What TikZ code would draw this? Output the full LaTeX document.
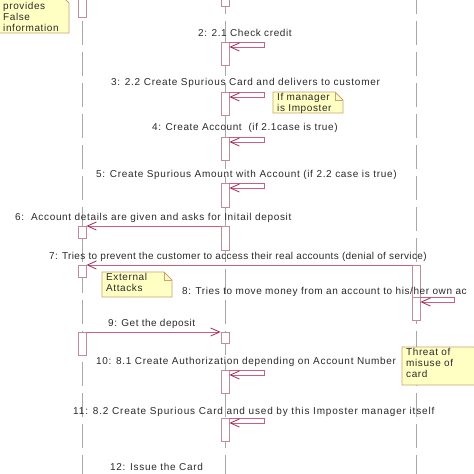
\documentclass[tikz,border=0pt]{standalone}
\usepackage{fontspec}
\setmainfont{Liberation Sans}[LetterSpace=6]
\usetikzlibrary{arrows.meta,calc}
\definecolor{lifec}{HTML}{A8A8A8}
\definecolor{actc}{HTML}{C08C98}
\definecolor{msgc}{HTML}{C86080}
\definecolor{tipc}{HTML}{A02858}
\definecolor{notefill}{HTML}{FFFFC4}
\definecolor{notedraw}{HTML}{C8A470}
\definecolor{txtc}{HTML}{2A2A2A}
\tikzset{
  lifeline/.style={draw=lifec, line width=0.9pt, dash pattern=on 24pt off 7pt},
  act/.style={draw=actc, fill=white, line width=0.8pt, rectangle, minimum width=8pt, inner sep=0pt, anchor=north},
  msg/.style={draw=msgc, line width=0.8pt, -{Straight Barb[length=9pt,width=8pt,color=tipc,line width=0.8pt]}},
  lbl/.style={text=txtc, inner sep=0pt, anchor=west},
  notebody/.style={fill=notefill, draw=notedraw, line width=0.8pt},
  notetext/.style={text=txtc, inner sep=0pt, align=left, font=\fontsize{10}{11}\selectfont}
}
\newcommand{\umlnote}[6]{%
  \filldraw[notebody] (#2,#3) -- (#4-8,#3) -- (#4,#3+8) -- (#4,#5) -- (#2,#5) -- cycle;
  \draw[notebody, fill=none] (#4-8,#3) -- (#4-8,#3+8) -- (#4,#3+8);
  \node[notetext, anchor=north west] (#1) at (#2+4,#3+1) {#6};
}
\begin{document}
\begin{tikzpicture}[x=1pt, y=-1pt, font=\fontsize{10}{11}\selectfont]
\useasboundingbox (0,0) rectangle (474,474);
\clip (0,0) rectangle (474,474);
\fill[white] (0,0) rectangle (474,474);
% lifelines
\coordinate (lt) at (82,-10); \coordinate (lb) at (82,480);
\coordinate (mt) at (225,-10); \coordinate (mb) at (225,480);
\coordinate (rt) at (416,-10); \coordinate (rb) at (416,480);
\draw[lifeline] (lt) -- (lb);
\draw[lifeline] (mt) -- (mb);
\draw[lifeline] (rt) -- (rb);
% activation boxes: left
\node[act, minimum height=27pt] (l0) at (82,-10) {};
\node[act, minimum height=12pt] (l1) at (82,226) {};
\node[act, minimum height=12pt] (l2) at (82,265) {};
\node[act, minimum height=23pt] (l3) at (82,332) {};
% middle
\node[act, minimum height=16pt] (m0) at (225,-10) {};
\node[act, minimum height=23pt] (m1) at (225,42) {};
\node[act, minimum height=23pt] (m2) at (225,92) {};
\node[act, minimum height=23pt] (m3) at (225,137) {};
\node[act, minimum height=24pt] (m4) at (225,183) {};
\node[act, minimum height=24pt] (m5) at (225,226) {};
\node[act, minimum height=11pt] (m6) at (225,332) {};
\node[act, minimum height=23pt] (m7) at (225,370) {};
\node[act, minimum height=23pt] (m8) at (225,418) {};
% right
\node[act, minimum height=55pt] (r1) at (416,265) {};
\node[act, minimum height=23pt] (r2) at (416,297) {};
% self messages
\foreach \b in {m1,m2,m3,m4,m7,m8}{
  \draw[msg] (\b.north east) -- ++(35,0) |- ([yshift=-5pt]\b.north east);
}
\draw[msg] (r2.north east) -- ++(34,0) |- ([yshift=-5pt]r2.north east);
% messages between lifelines
\draw[msg] (m5.north west) -- (l1.north east);
\draw[msg] (r1.north west) -- (l2.north east);
\draw[msg] (l3.north east) -- (m6.north west);
% labels
\node[lbl] (t2) at (198,33) {2: 2.1 Check credit};
\node[lbl] (t3) at (111,83) {\addfontfeature{LetterSpace=7.3}3: 2.2 Create Spurious Card and delivers to customer};
\node[lbl] (t4) at (152,128) {4: Create Account\ \ (if 2.1case is true)};
\node[lbl] (t5) at (96,175) {\addfontfeature{LetterSpace=7}5: Create Spurious Amount with Account (if 2.2 case is true)};
\node[lbl] (t6) at (15,218) {\addfontfeature{LetterSpace=6.7}6:\ \ Account details are given and asks for Initail deposit};
\node[lbl] (t7) at (49,257) {\addfontfeature{LetterSpace=3.6}7: Tries to prevent the customer to access their real accounts (denial of service)};
\node[lbl] (t8) at (182,292) {8: Tries to move money from an account to his/her own ac};
\node[lbl] (t9) at (108,324) {\addfontfeature{LetterSpace=5}9: Get the deposit};
\node[lbl] (t10) at (96,362) {\addfontfeature{LetterSpace=7}10: 8.1 Create Authorization depending on Account Number};
\node[lbl] (t11) at (73,412) {\addfontfeature{LetterSpace=8.4}11: 8.2 Create Spurious Card and used by this Imposter manager itself};
\node[lbl] (t12) at (110,467) {\addfontfeature{LetterSpace=7}12: Issue the Card};
% notes
\filldraw[notebody] (-5,-5) -- (61,-5) -- (69,3) -- (69,33) -- (-5,33) -- cycle;
\node[notetext, anchor=south west] (n0) at (3,32) {provides\\False\\information};
\umlnote{n1}{273}{92}{343}{113}{If manager\\is Imposter}
\umlnote{n2}{102}{272}{172}{297}{External\\Attacks}
\umlnote{n3}{402}{347}{482}{385}{Threat of\\misuse of\\card}
\end{tikzpicture}
\end{document}
